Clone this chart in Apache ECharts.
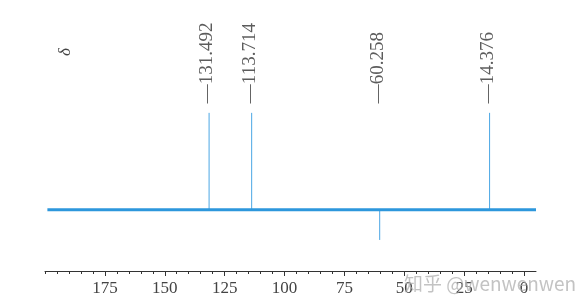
<!DOCTYPE html>
<html>
<head>
<meta charset="utf-8">
<script src="https://cdn.jsdelivr.net/npm/echarts@6/dist/echarts.min.js"></script>
<style>html,body{margin:0;padding:0;background:#fff;}#c{width:577px;height:304px;}</style>
</head>
<body>
<div id="c"></div>
<script>
// Chemical shifts (ppm) and relative intensities
const peakShifts = [131.492, 113.714, 60.258, 14.376];
const peakIntensities = [100, 100, -31, 100];
const peakLabels = ['131.492', '113.714', '60.258', '14.376'];
const baselineRange = [199, -5];
const labelLevel = 110;
const axisLabelValues = [0, 25, 50, 75, 100, 125, 150, 175];
const minorTickValues = [0, 5, 10, 15, 20, 25, 30, 35, 40, 45, 50, 55, 60, 65, 70, 75, 80, 85, 90, 95, 100,
  105, 110, 115, 120, 125, 130, 135, 140, 145, 150, 155, 160, 165, 170, 175, 180, 185, 190, 195, 200];
const majorTickValues = [0, 25, 50, 75, 100, 125, 150, 175];

const chart = echarts.init(document.getElementById('c'), null, {renderer: 'canvas'});
const serif = '"Liberation Serif", "DejaVu Serif", serif';

const series = [];
series.push({
  type: 'line', name: 'baseline', clip: false, symbol: 'none', silent: true,
  data: baselineRange.map(x => [x, 0]),
  lineStyle: {color: '#2d97dc', width: 3}, z: 3
});
peakShifts.forEach((x, i) => {
  series.push({
    type: 'line', clip: false, symbol: 'none', silent: true,
    data: [[x, 0], [x, peakIntensities[i]]],
    lineStyle: {color: '#4aa6e4', width: 1}, z: 2
  });
});
series.push({
  type: 'scatter', clip: false, symbolSize: 0, silent: true,
  data: peakShifts.map((x, i) => ({value: [x, labelLevel], name: peakLabels[i]})),
  label: {
    show: true, position: 'inside', rotate: 90, align: 'left', verticalAlign: 'middle',
    formatter: p => '\u2014' + p.name,
    fontFamily: serif, fontSize: 19, color: '#333', offset: [0, -2]
  }
});

chart.setOption({
  animation: false,
  grid: {left: 45, right: 41, top: 10, bottom: 33},
  xAxis: [{
    type: 'value', inverse: true, min: -5, max: 200,
    splitLine: {show: false},
    axisLine: {show: true, onZero: false, lineStyle: {color: '#333', width: 1}},
    axisTick: {show: true, customValues: minorTickValues, length: 3, lineStyle: {color: '#333'}},
    axisLabel: {show: true, customValues: axisLabelValues, fontFamily: serif, fontSize: 17, color: '#444', margin: 9}
  }, {
    type: 'value', inverse: true, min: -5, max: 200, position: 'bottom',
    splitLine: {show: false},
    axisLine: {show: false, onZero: false},
    axisTick: {show: true, customValues: majorTickValues, length: 5, lineStyle: {color: '#333'}},
    axisLabel: {show: false}
  }],
  yAxis: {type: 'value', min: -63, max: 206, show: false, splitLine: {show: false}},
  graphic: [{
    type: 'text', x: 66, y: 52, rotation: Math.PI / 2,
    style: {text: '\u03b4', font: 'italic 17px ' + serif, fill: '#444', align: 'center', verticalAlign: 'middle'}
  }, {
    type: 'text', x: 404, y: 284, z: 100,
    style: {text: '知乎 @wenwenwen', font: '19px "Noto Sans CJK SC", sans-serif', fill: 'rgba(175,175,175,0.75)', verticalAlign: 'middle'}
  }],
  series: series
});
</script>
</body>
</html>
